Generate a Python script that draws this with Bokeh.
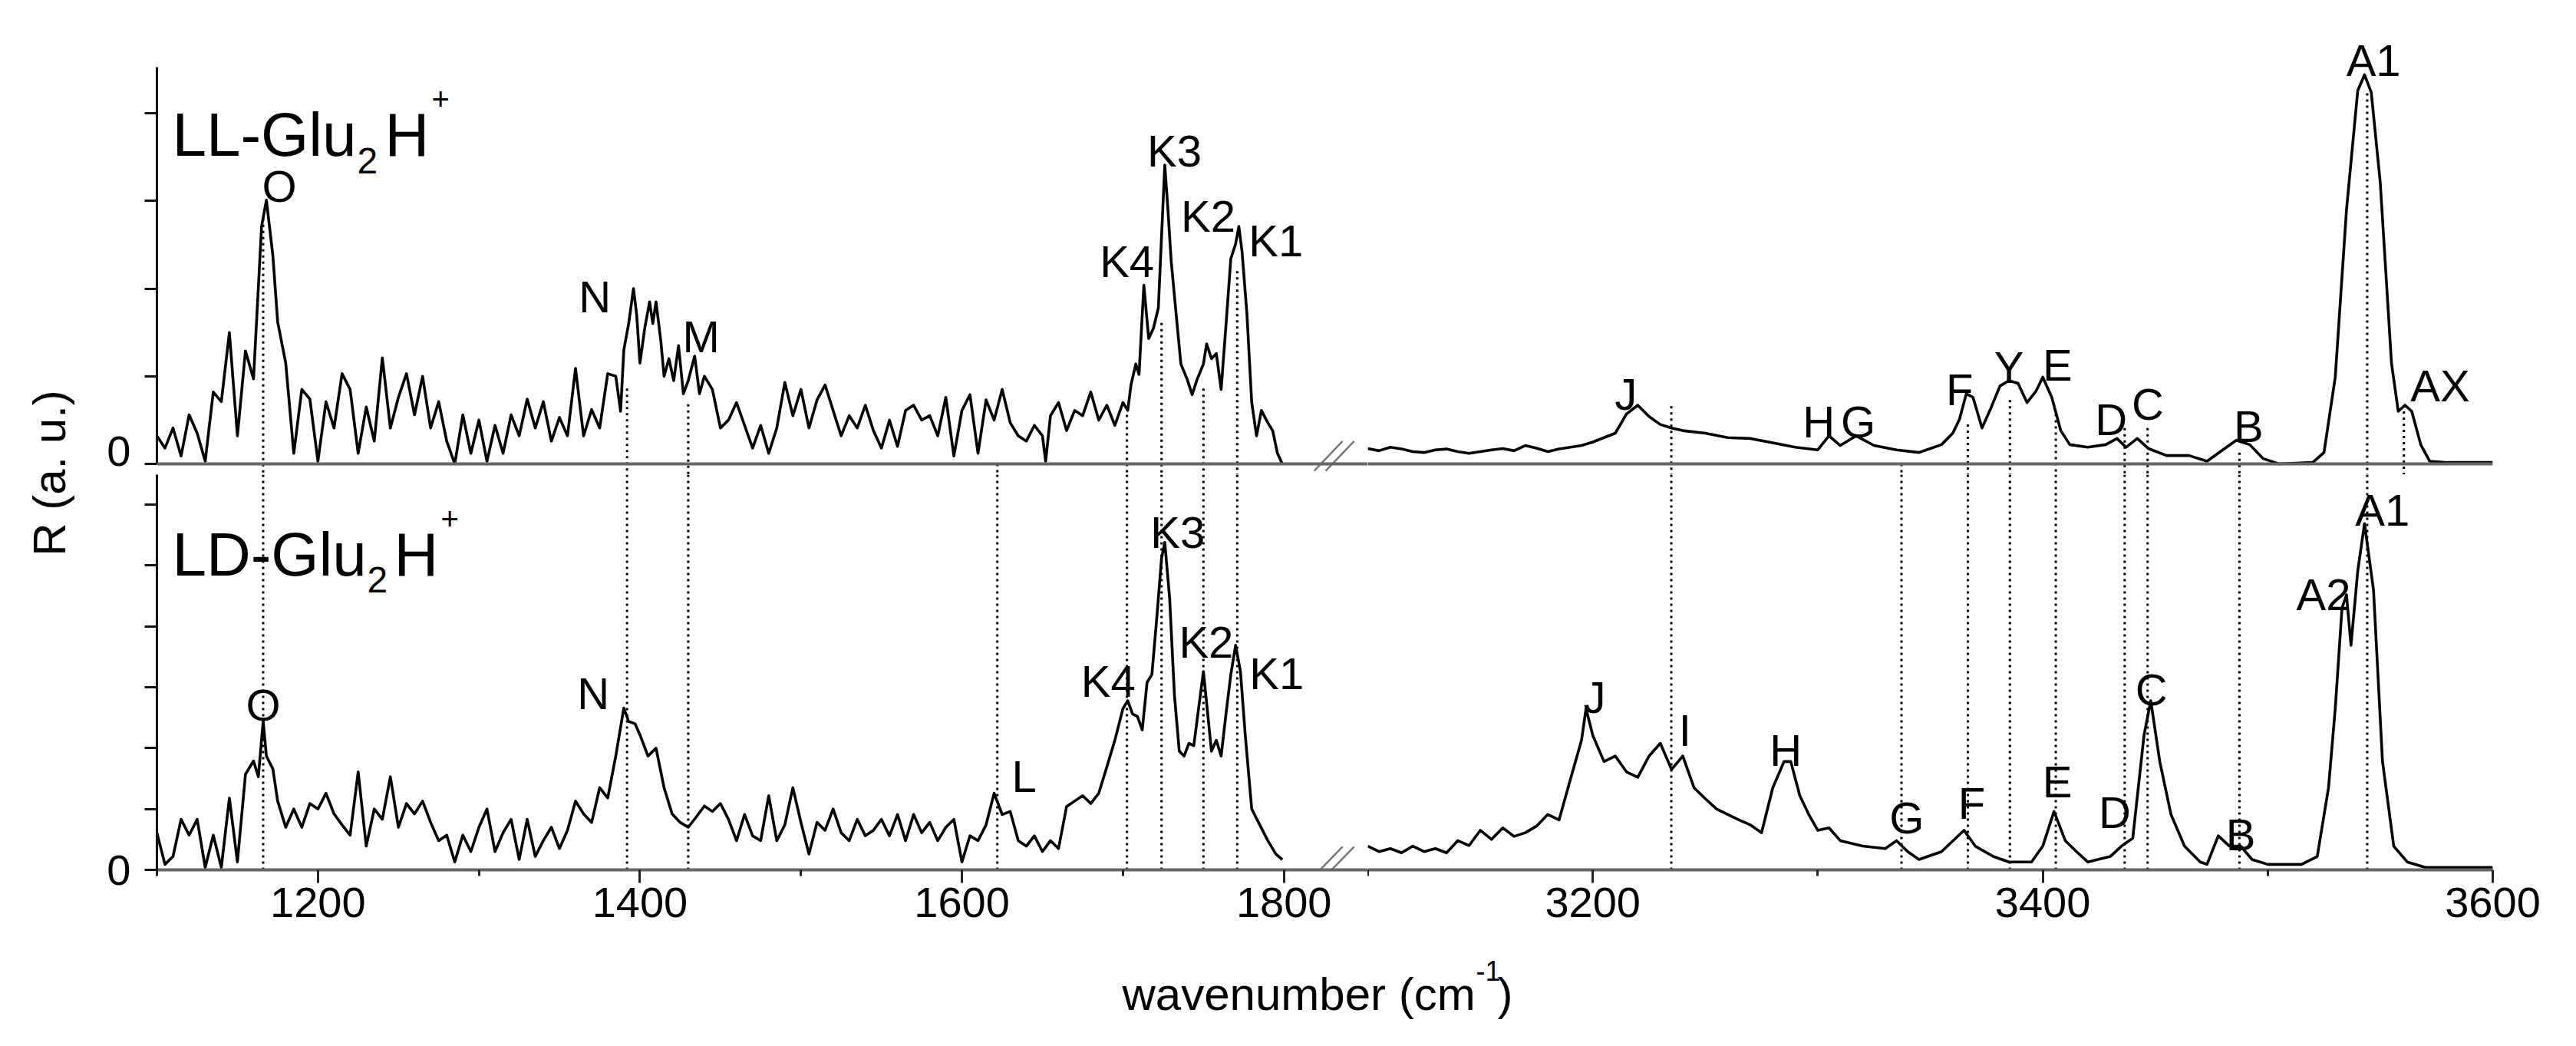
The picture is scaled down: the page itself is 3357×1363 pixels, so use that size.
import math
from bokeh.plotting import figure
from bokeh.models import Range1d, FixedTicker, Span, Label
from bokeh.layouts import row, column
from bokeh.embed import file_html
from bokeh.resources import INLINE
from bokeh.core.properties import value

FONT = "Liberation Sans"

# ---------------- data (wavenumber cm-1, R in a.u.) ----------------
ll_left = [(1100,0.32),(1105,0.18),(1110,0.41),(1115,0.09),(1120,0.56),(1125,0.35),(1130,0.03),(1135,0.82),
 (1140,0.71),(1145,1.5),(1150,0.32),(1155,1.29),(1160,0.97),(1165,2.71),(1168,3.01),(1172,2.38),(1175,1.62),
 (1180,1.15),(1185,0.12),(1190,0.85),(1195,0.74),(1200,0.03),(1205,0.71),(1210,0.41),(1215,1.03),(1220,0.85),
 (1225,0.12),(1230,0.65),(1235,0.26),(1240,1.21),(1245,0.41),(1250,0.76),(1255,1.03),(1260,0.56),(1265,1.0),
 (1270,0.41),(1275,0.71),(1280,0.26),(1285,0.0),(1290,0.56),(1295,0.12),(1300,0.5),(1305,0.03),(1310,0.44),
 (1315,0.12),(1320,0.56),(1325,0.32),(1330,0.74),(1335,0.41),(1340,0.71),(1345,0.26),(1350,0.53),(1355,0.32),
 (1360,1.09),(1365,0.32),(1370,0.62),(1375,0.41),(1380,1.03),(1385,1.0),(1388,0.6),(1390,1.3),(1393,1.6),
 (1396,2.0),(1398,1.7),(1400,1.15),(1403,1.55),(1406,1.85),(1408,1.6),(1410,1.85),(1413,1.4),(1415,1.0),
 (1418,1.2),(1421,0.95),(1424,1.35),(1427,0.8),(1430,0.95),(1434,1.23),(1437,0.8),(1440,1.0),
 (1445,0.85),(1450,0.41),(1455,0.5),(1460,0.7),(1465,0.44),(1470,0.18),(1475,0.44),(1480,0.12),(1485,0.41),
 (1490,0.93),(1495,0.55),(1500,0.85),(1505,0.41),(1510,0.73),(1515,0.9),(1520,0.61),(1525,0.32),(1530,0.55),
 (1535,0.41),(1540,0.67),(1545,0.38),(1550,0.18),(1555,0.5),(1560,0.2),(1565,0.61),(1570,0.67),(1575,0.5),
 (1580,0.55),(1585,0.32),(1590,0.76),(1595,0.09),(1600,0.61),(1605,0.79),(1610,0.12),(1615,0.73),(1620,0.5),
 (1625,0.85),(1630,0.47),(1635,0.32),(1640,0.26),(1645,0.44),(1650,0.32),(1652,0.03),(1655,0.55),(1660,0.7),
 (1665,0.38),(1670,0.61),(1675,0.55),(1680,0.82),(1685,0.5),(1690,0.67),(1695,0.44),(1700,0.7),(1703,0.61),
 (1705,0.9),(1708,1.14),(1710,1.02),(1713,2.04),(1716,1.43),(1719,1.55),(1722,1.78),(1724,2.6),(1726,3.41),
 (1728,2.89),(1730,2.31),(1733,1.72),(1736,1.14),(1740,0.96),(1743,0.79),(1746,0.96),(1750,1.14),(1752,1.37),
 (1755,1.2),(1758,1.26),(1761,0.85),(1764,1.58),(1767,2.34),(1770,2.51),(1772,2.71),(1774,2.42),(1777,1.72),
 (1780,0.7),(1783,0.32),(1786,0.61),(1790,0.47),(1793,0.38),(1796,0.12),(1799,0.0)]

ld_left = [(1100,0.61),(1105,0.09),(1110,0.22),(1115,0.83),(1120,0.57),(1125,0.83),(1130,0.04),(1135,0.57),
 (1140,0.04),(1145,1.18),(1150,0.13),(1155,1.57),(1160,1.79),(1163,1.53),(1166,2.44),(1168,1.87),(1172,1.66),
 (1175,1.13),(1180,0.7),(1185,1.0),(1190,0.7),(1195,1.09),(1200,1.0),(1205,1.26),(1210,0.92),(1215,0.74),
 (1220,0.57),(1225,1.61),(1230,0.39),(1235,1.0),(1240,0.83),(1245,1.53),(1250,0.7),(1255,1.09),(1260,0.92),
 (1265,1.13),(1270,0.78),(1275,0.48),(1280,0.57),(1285,0.13),(1290,0.57),(1295,0.3),(1300,0.7),(1305,1.0),
 (1310,0.3),(1315,0.61),(1320,0.83),(1325,0.17),(1330,0.83),(1335,0.22),(1340,0.48),(1345,0.7),(1350,0.35),
 (1355,0.65),(1360,1.13),(1365,0.92),(1370,0.78),(1375,1.35),(1380,1.18),(1385,1.87),(1390,2.66),(1393,2.44),
 (1397,2.4),(1400,2.22),(1405,1.87),(1410,2.0),(1415,1.35),(1420,0.92),(1425,0.78),(1430,0.7),(1435,0.87),
 (1440,1.05),(1445,0.96),(1450,1.09),(1455,0.83),(1460,0.48),(1465,0.91),(1470,0.56),(1475,0.48),(1480,1.22),
 (1485,0.48),(1490,0.74),(1495,1.35),(1500,0.78),(1505,0.26),(1510,0.78),(1515,0.65),(1520,1.0),(1525,0.61),
 (1530,0.48),(1535,0.83),(1540,0.56),(1545,0.65),(1550,0.83),(1555,0.56),(1560,0.91),(1565,0.48),(1570,0.91),
 (1575,0.61),(1580,0.78),(1585,0.48),(1590,0.7),(1595,0.83),(1600,0.13),(1605,0.56),(1610,0.48),(1615,0.74),
 (1620,1.26),(1625,0.91),(1630,0.96),(1635,0.48),(1640,0.39),(1645,0.56),(1650,0.3),(1655,0.48),(1660,0.35),
 (1665,1.04),(1670,1.13),(1675,1.22),(1680,1.09),(1685,1.26),(1690,1.69),(1695,2.13),(1700,2.65),(1703,2.78),
 (1706,2.56),(1709,2.52),(1712,2.3),(1715,3.08),(1718,3.21),(1721,4.13),(1724,5.12),(1726,5.38),(1729,4.47),
 (1732,2.87),(1735,1.95),(1738,1.87),(1741,2.08),(1744,2.04),(1747,2.65),(1750,3.26),(1752,2.74),(1755,1.95),
 (1758,2.13),(1761,1.87),(1764,2.56),(1767,3.21),(1770,3.69),(1773,3.26),(1776,2.21),(1780,1.0),(1785,0.74),
 (1790,0.48),(1795,0.26),(1799,0.17)]

ll_right = [(3100,0.175),(3105,0.15),(3110,0.19),(3115,0.17),(3120,0.14),(3125,0.13),(3130,0.16),(3135,0.17),
 (3140,0.14),(3145,0.12),(3150,0.14),(3155,0.16),(3160,0.175),(3165,0.15),(3170,0.21),(3175,0.18),(3180,0.14),
 (3185,0.17),(3190,0.19),(3195,0.21),(3200,0.25),(3210,0.35),(3215,0.57),(3220,0.67),(3225,0.54),(3230,0.45),
 (3235,0.41),(3240,0.38),(3250,0.35),(3260,0.30),(3270,0.29),(3280,0.24),(3290,0.19),(3300,0.16),(3305,0.32),
 (3310,0.21),(3317,0.32),(3325,0.21),(3335,0.16),(3345,0.13),(3350,0.175),(3355,0.22),(3360,0.35),(3363,0.51),
 (3366,0.80),(3369,0.76),(3373,0.41),(3377,0.64),(3381,0.89),(3385,0.95),(3389,0.92),(3393,0.70),(3397,0.83),
 (3400,0.99),(3404,0.76),(3408,0.38),(3412,0.22),(3420,0.19),(3428,0.22),(3433,0.29),(3437,0.19),(3442,0.29),
 (3447,0.175),(3455,0.095),(3465,0.095),(3473,0.03),(3480,0.16),(3486,0.27),(3492,0.22),(3498,0.06),(3505,0.0),
 (3520,0.016),(3525,0.13),(3530,0.99),(3535,2.9),(3540,4.26),(3543,4.44),(3546,4.24),(3550,3.21),(3555,1.15),
 (3558,0.6),(3561,0.67),(3564,0.6),(3568,0.22),(3572,0.03),(3580,0.016),(3600,0.016)]

ld_right = [(3100,0.39),(3105,0.30),(3110,0.35),(3115,0.28),(3120,0.39),(3125,0.30),(3130,0.35),(3135,0.28),
 (3140,0.48),(3145,0.40),(3150,0.65),(3155,0.50),(3160,0.69),(3165,0.55),(3170,0.61),(3175,0.72),(3180,0.91),
 (3185,0.82),(3190,1.48),(3195,2.13),(3197,2.65),(3200,2.21),(3205,1.78),(3210,1.87),(3215,1.61),(3220,1.52),
 (3225,1.87),(3230,2.08),(3235,1.65),(3240,1.87),(3245,1.35),(3250,1.17),(3255,1.0),(3260,0.91),(3265,0.82),
 (3270,0.74),(3275,0.61),(3280,1.35),(3285,1.78),(3288,1.78),(3292,1.22),(3296,0.91),(3300,0.65),(3305,0.69),
 (3310,0.48),(3320,0.39),(3330,0.35),(3335,0.48),(3340,0.30),(3345,0.17),(3355,0.30),(3365,0.65),(3370,0.39),
 (3378,0.22),(3385,0.13),(3395,0.13),(3400,0.39),(3405,0.96),(3410,0.48),(3415,0.30),(3420,0.13),(3430,0.22),
 (3435,0.39),(3440,0.52),(3445,2.21),(3448,2.78),(3452,1.78),(3457,0.91),(3463,0.39),(3470,0.13),(3473,0.09),
 (3478,0.56),(3483,0.39),(3488,0.39),(3493,0.17),(3500,0.09),(3515,0.09),(3522,0.22),(3527,1.35),(3530,2.65),
 (3533,4.3),(3535,4.52),(3537,3.69),(3540,4.91),(3543,5.69),(3547,4.6),(3551,1.78),(3556,0.39),(3562,0.13),
 (3570,0.04),(3600,0.04)]

# peak labels: (text, wavenumber, baseline height)
ll_left_labels = [("O",1176,3.17),("N",1372,1.91),("M",1438,1.45),("K4",1702.5,2.31),("K3",1732,3.57),
                  ("K2",1753,2.83),("K1",1795,2.55)]
ll_right_labels = [("A1",3547,4.61),("AX",3576.6,0.89),("J",3214.7,0.80),("H",3300.4,0.48),("G",3318,0.48),
                   ("F",3363,0.85),("Y",3385,1.10),("E",3406.6,1.13),("D",3430.4,0.51),("C",3446.7,0.68),
                   ("B",3491.5,0.43)]
ld_left_labels = [("O",1166,2.71),("N",1371,2.90),("L",1638.6,1.54),("K4",1690.9,3.10),("K3",1734,5.55),
                  ("K2",1751.7,3.75),("K1",1795.5,3.23)]
ld_right_labels = [("J",3200.8,2.84),("I",3241,2.30),("H",3285.8,1.97),("G",3339.5,0.86),("F",3368.4,1.10),
                   ("E",3406.5,1.45),("D",3432,0.95),("C",3448.3,2.96),("B",3488,0.58),("A2",3524.8,4.53),
                   ("A1",3551,5.91)]

# dotted guide lines: wavenumber, start height in upper panel, continues into lower panel
left_vline_wn = [1166, 1392, 1430, 1622, 1702.5, 1724, 1750, 1771]
left_vline_top = [2.8, 0.86, 0.68, 0.0, 0.56, 1.61, 0.86, 2.2]
right_vline_wn = [3234.9, 3337.2, 3366.7, 3385.4, 3405.8, 3436.4, 3446.6, 3487.4, 3544.2, 3560.5]
right_vline_top = [0.66, 0.0, 0.45, 0.73, 0.57, 0.41, 0.41, 0.13, 4.23, 0.6]
right_vline_lower = [True, True, True, True, True, True, True, True, True, False]

left_xticks = [1200, 1400, 1600, 1800]
left_xminor = [1100, 1300, 1500, 1700]
right_xticks = [3200, 3400, 3600]
right_xminor = [3100, 3300, 3500]
ll_yticks = [0, 1, 2, 3, 4]
ld_yticks = [0, 1, 2, 3, 4, 5, 6]

# axis-break mark ends (wavenumber pairs) and heights in each panel
break_x0 = [1818.8, 1825.9]
break_x1 = [1836.4, 1843.6]
break_top_y = (-0.08, 0.26)
break_bot_y = (-0.1, 0.38)

# ranges
LX = (1100, 1852.1)
RX = (3100, 3600)
TOP_Y = (-0.1226, 5.289)
TOP_AXIS_END = 4.527
BOT_Y = (0, 6.494)

# ---------------- layout sizes ----------------
W_YT = 102
W_L = 1680
W_R = 1551
H_T = 618
H_B = 604
H_XT = 120

LINE_W = 3.6


def mk(width, height, xr, yr, xloc="below", yloc="left", **kw):
    p = figure(width=width, height=height, x_range=Range1d(*xr), y_range=Range1d(*yr),
               output_backend="svg", toolbar_location=None,
               x_axis_location=xloc, y_axis_location=yloc, **kw)
    p.outline_line_color = None
    p.background_fill_color = "white"
    p.border_fill_color = "white"
    for g in p.grid:
        g.visible = False
    return p


def style_y(ax, ticks, bounds=None):
    ax.ticker = FixedTicker(ticks=ticks)
    ax.major_label_overrides = {t: ("0" if t == 0 else " ") for t in ticks}
    ax.axis_line_width = 3
    ax.axis_line_color = "#111111"
    ax.major_tick_line_width = 3
    ax.major_tick_line_color = "#111111"
    ax.major_tick_out = 16
    ax.major_tick_in = 0
    ax.minor_tick_line_color = None
    ax.major_label_text_font = FONT
    ax.major_label_text_font_size = "56px"
    ax.major_label_text_color = "black"
    ax.major_label_standoff = 18
    if bounds is not None:
        ax.bounds = bounds


def style_x(ax, ticks, minor):
    ax.ticker = FixedTicker(ticks=ticks, minor_ticks=minor)
    ax.axis_line_width = 4
    ax.axis_line_color = "#666666"
    ax.major_tick_line_width = 3
    ax.major_tick_line_color = "#222222"
    ax.major_tick_out = 17
    ax.major_tick_in = 0
    ax.minor_tick_line_width = 3
    ax.minor_tick_line_color = "#222222"
    ax.minor_tick_out = 8
    ax.minor_tick_in = 0
    ax.major_label_text_font = FONT
    ax.major_label_text_font_size = "56px"
    ax.major_label_text_color = "black"
    ax.major_label_standoff = 6


def spectrum(p, pairs):
    p.line([a for a, b in pairs], [b for a, b in pairs], line_color="black", line_width=LINE_W,
           line_join="round")


def labels(p, items):
    p.text(x=[b for a, b, c in items], y=[c for a, b, c in items], text=[a for a, b, c in items],
           text_font=value(FONT), text_font_size="58px", text_align="center",
           text_baseline="alphabetic", text_color="black")


def vlines_top(p, wn, top, y_end):
    p.segment(x0=wn, y0=top, x1=wn, y1=[y_end] * len(wn), line_color="black",
              line_width=3, line_dash="3 5")


def vlines_bottom(p, wn, y_end):
    p.segment(x0=wn, y0=[0] * len(wn), x1=wn, y1=[y_end] * len(wn), line_color="black",
              line_width=3, line_dash="3 5")


def breaks(p, ys):
    p.segment(x0=break_x0, y0=[ys[0]] * 2, x1=break_x1, y1=[ys[1]] * 2,
              line_color="#777777", line_width=2.5)


def panel_title(p, x, y, prefix, offs, sub_dy, sup_dy):
    common = dict(text_font=value(FONT), text_align="left", text_baseline="alphabetic", text_color="black")
    p.text(x=[x], y=[y], text=[prefix], text_font_size="80px", **common)
    p.text(x=[x], y=[y], text=["2"], text_font_size="48px", x_offset=offs[0], y_offset=sub_dy, **common)
    p.text(x=[x], y=[y], text=["H"], text_font_size="80px", x_offset=offs[1], **common)
    p.text(x=[x], y=[y], text=["+"], text_font_size="40px", x_offset=offs[2], y_offset=sup_dy, **common)


# ---------------- upper (LL) panels ----------------
tl = mk(W_L, H_T, LX, TOP_Y, xloc=None, min_border_left=102, min_border_right=0,
        min_border_top=0, min_border_bottom=0)
style_y(tl.yaxis[0], ll_yticks, bounds=(0, TOP_AXIS_END))
tl.add_layout(Span(location=0, dimension="width", line_color="#666666", line_width=4))
vlines_top(tl, left_vline_wn, left_vline_top, TOP_Y[0])
breaks(tl, break_top_y)
spectrum(tl, ll_left)
labels(tl, ll_left_labels)
panel_title(tl, 1109.5, 3.757, "LL-Glu", (241, 277, 338), 34, -46)

tr = mk(W_R, H_T, RX, TOP_Y, xloc=None, yloc=None, min_border_left=0, min_border_right=W_R - 1466,
        min_border_top=0, min_border_bottom=0)
tr.add_layout(Span(location=0, dimension="width", line_color="#666666", line_width=4))
vlines_top(tr, right_vline_wn, right_vline_top, TOP_Y[0])
spectrum(tr, ll_right)
labels(tr, ll_right_labels)

# ---------------- lower (LD) panels ----------------
bl = mk(W_L, H_B, LX, BOT_Y, min_border_left=102, min_border_right=0,
        min_border_top=0, min_border_bottom=89)
style_y(bl.yaxis[0], ld_yticks)
style_x(bl.xaxis[0], left_xticks, left_xminor)
vlines_bottom(bl, left_vline_wn, BOT_Y[1])
breaks(bl, break_bot_y)
spectrum(bl, ld_left)
labels(bl, ld_left_labels)
panel_title(bl, 1109.5, 5.18, "LD-Glu", (254, 289, 350), 33, -47)

br = mk(W_R, H_B, RX, BOT_Y, yloc=None, min_border_left=0, min_border_right=W_R - 1466,
        min_border_top=0, min_border_bottom=89)
style_x(br.xaxis[0], right_xticks, right_xminor)
vlines_bottom(br, [w for w, k in zip(right_vline_wn, right_vline_lower) if k], BOT_Y[1])
spectrum(br, ld_right)
labels(br, ld_right_labels)

# ---------------- axis titles ----------------
xt = mk(W_L + W_R, H_XT, (0, W_L + W_R), (0, H_XT), xloc=None, yloc=None, min_border=0)
lcommon = dict(text_font=FONT, text_align="left", text_baseline="alphabetic", text_color="black")
xt.add_layout(Label(x=1360, y=47, text="wavenumber (cm", text_font_size="60px", **lcommon))
xt.add_layout(Label(x=1821, y=78, text="-1", text_font_size="36px", **lcommon))
xt.add_layout(Label(x=1849, y=47, text=")", text_font_size="60px", **lcommon))

yt = mk(W_YT, H_T + H_B + H_XT, (0, W_YT), (0, H_T + H_B + H_XT), xloc=None, yloc=None, min_border=0)
yt.add_layout(Label(x=64, y=H_T + H_B + H_XT - 616, text="R (a. u.)", angle=math.pi / 2, text_font=FONT,
                    text_font_size="60px", text_align="center", text_baseline="middle",
                    text_color="black"))

layout = row(yt, column(row(tl, tr), row(bl, br), xt))

open("out.html", "w").write(file_html(layout, INLINE))
